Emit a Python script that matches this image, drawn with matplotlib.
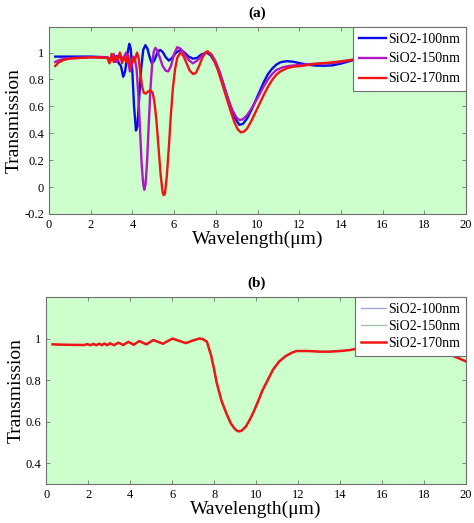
import matplotlib
matplotlib.use("Agg")
import matplotlib.pyplot as plt

# ---------------- data ----------------
wl_100 = [0.3, 1.0, 2.0, 2.8, 2.95, 3.05, 3.15, 3.25, 3.35, 3.45, 3.56, 3.65, 3.75, 3.85, 3.92,
          4.0, 4.08, 4.17, 4.24, 4.32, 4.42, 4.52, 4.62, 4.72, 4.82, 4.93, 5.05, 5.2, 5.33, 5.45,
          5.6, 5.75, 5.9, 6.1, 6.3, 6.5, 6.7, 6.9, 7.1, 7.3, 7.55, 7.75, 7.95, 8.15, 8.35,
          8.55, 8.75, 8.95, 9.13, 9.3, 9.5, 9.7, 9.9, 10.1, 10.3, 10.5, 10.7, 10.9, 11.1, 11.4,
          11.7, 12.0, 12.4, 12.8, 13.2, 13.6, 14.0, 14.5, 15.0, 16.0, 17.0, 18.0, 19.0, 20.0]
t_100 = [0.97, 0.97, 0.97, 0.965, 0.94, 0.98, 0.93, 0.975, 0.92, 0.90, 0.82, 0.86, 0.98, 1.065, 1.03,
         0.85, 0.60, 0.42, 0.45, 0.65, 0.88, 1.02, 1.055, 1.03, 0.97, 0.92, 0.94, 1.00, 1.02, 1.005,
         0.965, 0.94, 0.96, 1.00, 1.02, 1.00, 0.97, 0.955, 0.96, 0.985, 1.00, 0.98, 0.93, 0.86, 0.77,
         0.67, 0.58, 0.505, 0.463, 0.47, 0.51, 0.57, 0.64, 0.71, 0.78, 0.84, 0.88, 0.91, 0.928, 0.936,
         0.932, 0.922, 0.91, 0.903, 0.902, 0.905, 0.918, 0.94, 0.955, 0.96, 0.96, 0.95, 0.93, 0.90]

wl_150 = [0.3, 0.5, 0.8, 1.2, 2.0, 2.8, 2.95, 3.1, 3.25, 3.4, 3.55, 3.7, 3.8, 3.88, 3.96,
          4.05, 4.12, 4.2, 4.28, 4.36, 4.44, 4.52, 4.57, 4.63, 4.7, 4.78, 4.86, 4.95, 5.03, 5.1,
          5.18, 5.3, 5.45, 5.6, 5.72, 5.85, 6.0, 6.15, 6.3, 6.5, 6.7, 6.9, 7.1, 7.35, 7.6,
          7.8, 8.0, 8.2, 8.4, 8.6, 8.8, 9.0, 9.15, 9.3, 9.5, 9.7, 9.9, 10.1, 10.3, 10.5,
          10.7, 10.9, 11.2, 11.5, 11.8, 12.2, 12.6, 13.0, 13.5, 14.0, 14.5, 15.0, 16.0, 17.0, 18.0,
          19.0, 20.0]
t_150 = [0.93, 0.945, 0.955, 0.96, 0.965, 0.965, 0.94, 0.99, 0.93, 0.985, 0.95, 1.00, 0.93, 0.86, 0.90,
         0.97, 0.95, 0.88, 0.70, 0.45, 0.18, 0.02, -0.02, 0.02, 0.18, 0.45, 0.72, 0.92, 1.01, 1.035,
         1.02, 0.97, 0.90, 0.865, 0.86, 0.90, 0.99, 1.04, 1.03, 0.99, 0.945, 0.92, 0.94, 0.98, 1.005,
         0.985, 0.93, 0.85, 0.75, 0.65, 0.57, 0.515, 0.498, 0.505, 0.535, 0.58, 0.635, 0.69, 0.75, 0.80,
         0.84, 0.87, 0.89, 0.90, 0.905, 0.91, 0.915, 0.918, 0.922, 0.93, 0.945, 0.955, 0.96, 0.96, 0.95,
         0.93, 0.90]

wl_170 = [0.3, 0.45, 0.7, 1.0, 1.5, 2.0, 2.8, 2.9, 3.0, 3.1, 3.2, 3.3, 3.4, 3.5, 3.6,
          3.7, 3.8, 3.9, 4.0, 4.1, 4.22, 4.3, 4.38, 4.46, 4.55, 4.65, 4.75, 4.87, 4.97, 5.05,
          5.15, 5.25, 5.35, 5.45, 5.5, 5.56, 5.65, 5.75, 5.85, 5.95, 6.05, 6.15, 6.3, 6.45, 6.6,
          6.75, 6.92, 7.05, 7.2, 7.35, 7.5, 7.6, 7.75, 7.9, 8.1, 8.3, 8.5, 8.7, 8.9, 9.05,
          9.2, 9.35, 9.5, 9.7, 9.9, 10.1, 10.3, 10.5, 10.7, 10.9, 11.1, 11.4, 11.7, 12.1, 12.5,
          13.0, 13.5, 14.0, 14.5, 15.0, 16.0, 17.0, 18.0, 19.0, 20.0]
t_170 = [0.90, 0.925, 0.945, 0.955, 0.96, 0.965, 0.96, 0.92, 0.99, 0.93, 0.97, 0.95, 1.00, 0.92, 0.97,
         0.93, 0.98, 0.88, 0.96, 0.93, 1.00, 0.96, 0.85, 0.75, 0.70, 0.695, 0.71, 0.72, 0.70, 0.64,
         0.50, 0.30, 0.10, -0.04, -0.06, -0.05, 0.08, 0.30, 0.55, 0.75, 0.88, 0.96, 1.00, 0.975, 0.92,
         0.865, 0.84, 0.85, 0.90, 0.96, 1.00, 1.01, 0.99, 0.95, 0.87, 0.77, 0.67, 0.57, 0.48, 0.43,
         0.407, 0.412, 0.435, 0.49, 0.555, 0.62, 0.685, 0.745, 0.795, 0.835, 0.86, 0.883, 0.895, 0.90, 0.91,
         0.92, 0.925, 0.935, 0.945, 0.955, 0.96, 0.96, 0.95, 0.93, 0.90]

wl_b = [0.3, 1.0, 1.8, 1.95, 2.1, 2.24, 2.38, 2.53, 2.65, 2.77, 2.9, 3.04, 3.23, 3.43, 3.55,
        3.67, 3.79, 3.91, 4.04, 4.17, 4.3, 4.43, 4.6, 4.77, 4.93, 5.1, 5.33, 5.56, 5.79, 6.02,
        6.33, 6.65, 6.97, 7.29, 7.45, 7.65, 7.85, 8.0, 8.12, 8.35, 8.6, 8.8, 9.0, 9.15, 9.3,
        9.5, 9.7, 9.87, 10.1, 10.3, 10.5, 10.8, 11.1, 11.4, 11.7, 11.93, 12.5, 13.0, 13.5, 14.0,
        14.5, 15.2, 16.0, 17.0, 17.8, 18.45, 19.2, 20.0]
t_b = [0.972, 0.970, 0.969, 0.973, 0.968, 0.974, 0.968, 0.975, 0.968, 0.976, 0.968, 0.977, 0.968, 0.980, 0.975,
       0.969, 0.977, 0.984, 0.977, 0.970, 0.979, 0.988, 0.980, 0.972, 0.982, 0.993, 0.984, 0.975, 0.988, 1.000,
       0.989, 0.978, 0.990, 1.000, 0.998, 0.985, 0.92, 0.85, 0.787, 0.70, 0.635, 0.59, 0.563, 0.553, 0.556,
       0.575, 0.61, 0.645, 0.70, 0.75, 0.79, 0.85, 0.89, 0.915, 0.932, 0.940, 0.940, 0.937, 0.937, 0.940,
       0.945, 0.960, 0.965, 0.965, 0.960, 0.948, 0.925, 0.890]

labels = ["SiO2-100nm", "SiO2-150nm", "SiO2-170nm"]
xticks = [0, 2, 4, 6, 8, 10, 12, 14, 16, 18, 20]
yticks_a = [-0.2, 0, 0.2, 0.4, 0.6, 0.8, 1]
yticks_b = [0.4, 0.6, 0.8, 1]

# ---------------- style ----------------
plt.rcParams['font.family'] = ['Liberation Serif', 'DejaVu Serif']

fig = plt.figure(figsize=(4.74, 5.23), dpi=100)
bg = '#ccffcc'
spine_c = '#6f6f6f'

ax1 = fig.add_axes([49/474, 1-214/523, 417/474, 187/523])
ax2 = fig.add_axes([46.3/474, 1-484/523, 419.7/474, 187/523])

def style(ax):
    ax.set_facecolor(bg)
    for s in ax.spines.values():
        s.set_color(spine_c)
        s.set_linewidth(0.8)
    ax.tick_params(direction='in', top=True, right=True, length=3, width=0.6,
                   color=spine_c, labelsize=9, pad=3.5)
    ax.set_xlim(0, 20)
    ax.set_xticks(xticks)
    ax.set_xticklabels([str(v) for v in xticks])
    ax.set_xlabel("Wavelength(\u03bcm)", fontsize=14, labelpad=0)
    ax.set_ylabel("Transmission", fontsize=14, labelpad=1)

# panel (a)
style(ax1)
ax1.plot(wl_100, t_100, color='#0a0ae6', lw=1.7, label=labels[0])
ax1.plot(wl_150, t_150, color='#b414c8', lw=1.7, label=labels[1])
ax1.plot(wl_170, t_170, color='#ee1515', lw=1.7, label=labels[2])
ax1.set_ylim(-0.2, 1.19)
ax1.set_yticks(yticks_a)
ax1.set_yticklabels(['-0.2', '0', '0.2', '0.4', '0.6', '0.8', '1'])
ax1.set_title("(a)", fontsize=11, fontweight='bold', pad=7)
leg1 = ax1.legend(loc='upper right', bbox_to_anchor=(1.0, 1.0), borderaxespad=0,
                  fontsize=10, frameon=True, fancybox=False, handlelength=2.0,
                  handletextpad=0.15, labelspacing=0.5, borderpad=0.4)
leg1.get_frame().set_edgecolor(spine_c)
leg1.get_frame().set_linewidth(0.8)
leg1.get_frame().set_alpha(1)

# panel (b)
style(ax2)
ax2.plot(wl_b, t_b, color='#9f9fe6', lw=0.9, label=labels[0])
ax2.plot(wl_b, t_b, color='#9fc29f', lw=0.9, label=labels[1])
ax2.plot(wl_b, t_b, color='#ee1515', lw=1.8, label=labels[2])
ax2.set_ylim(0.3, 1.2)
ax2.set_yticks(yticks_b)
ax2.set_yticklabels(['0.4', '0.6', '0.8', '1'])
ax2.set_title("(b)", fontsize=11, fontweight='bold', pad=7)
leg2 = ax2.legend(loc='upper right', bbox_to_anchor=(1.0, 1.0), borderaxespad=0,
                  fontsize=10, frameon=True, fancybox=False, handlelength=1.8,
                  handletextpad=0.15, labelspacing=0.28, borderpad=0.45)
leg2.get_frame().set_edgecolor(spine_c)
leg2.get_frame().set_linewidth(0.8)
leg2.get_frame().set_alpha(1)

fig.savefig("out.png", dpi=100)
